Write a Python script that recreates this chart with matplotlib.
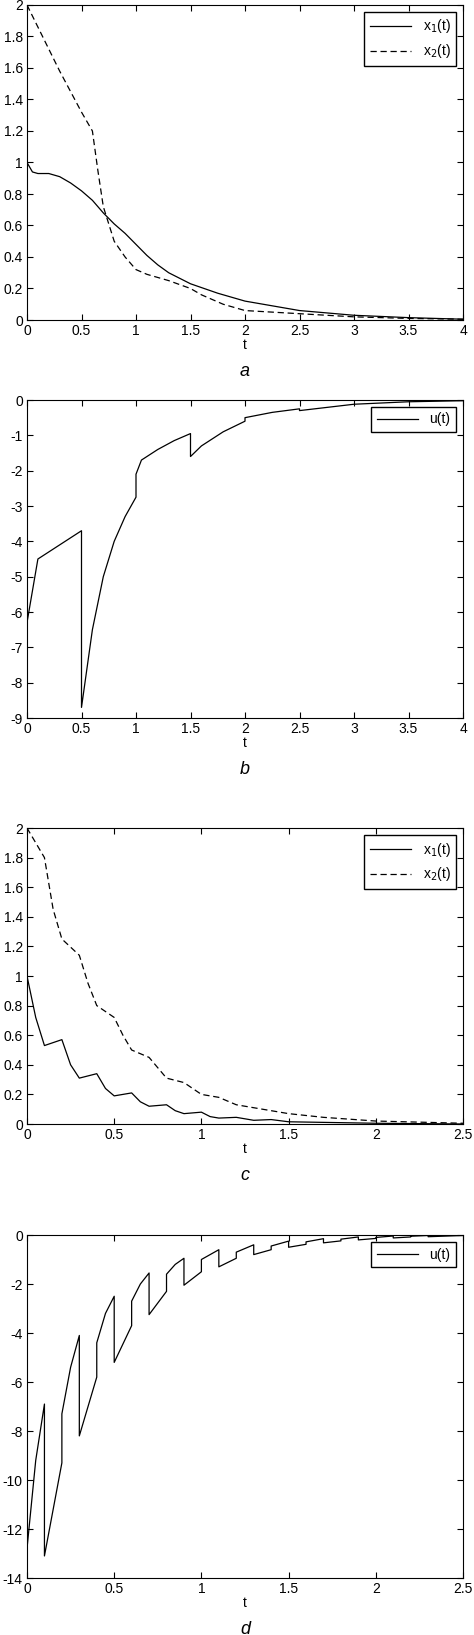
import matplotlib
matplotlib.use("Agg")
import matplotlib.pyplot as plt

plt.rcParams['font.family'] = ['Liberation Sans', 'DejaVu Sans']
plt.rcParams['font.size'] = 10
plt.rcParams['axes.unicode_minus'] = False

ta = [0, 0.05, 0.1, 0.2, 0.3, 0.4, 0.5, 0.6, 0.7, 0.8, 0.9, 1.0, 1.1, 1.2, 1.3, 1.5, 1.75, 2.0, 2.5, 3.0, 3.5, 4.0]
xa1 = [1.0, 0.94, 0.93, 0.93, 0.91, 0.87, 0.82, 0.76, 0.68, 0.61, 0.55, 0.48, 0.41, 0.35, 0.30, 0.23, 0.17, 0.12, 0.06, 0.03, 0.015, 0.005]
ta2 = [0, 0.1, 0.3, 0.5, 0.6, 0.65, 0.7, 0.8, 0.9, 1.0, 1.1, 1.3, 1.5, 1.6, 1.8, 2.0, 2.5, 3.0, 3.5, 4.0]
xa2 = [2.0, 1.86, 1.58, 1.32, 1.2, 0.95, 0.72, 0.5, 0.4, 0.32, 0.29, 0.25, 0.2, 0.16, 0.1, 0.06, 0.04, 0.02, 0.01, 0.005]

tb = [0, 0.1, 0.2, 0.35, 0.5, 0.5, 0.6, 0.7, 0.8, 0.9, 1.0, 1.0, 1.05, 1.2, 1.35, 1.5, 1.5, 1.6, 1.8, 2.0, 2.0, 2.25, 2.5, 2.5, 3.0, 3.5, 4.0]
ub = [-6.3, -4.5, -4.3, -4.0, -3.7, -8.7, -6.5, -5.0, -4.0, -3.3, -2.75, -2.1, -1.7, -1.4, -1.15, -0.95, -1.6, -1.3, -0.9, -0.6, -0.5, -0.35, -0.25, -0.3, -0.12, -0.05, -0.02]

tc1 = [0, 0.05, 0.1, 0.2, 0.25, 0.3, 0.4, 0.45, 0.5, 0.6, 0.65, 0.7, 0.8, 0.85, 0.9, 1.0, 1.05, 1.1, 1.2, 1.3, 1.4, 1.5, 1.75, 2.0, 2.5]
xc1 = [1.0, 0.72, 0.53, 0.57, 0.4, 0.31, 0.34, 0.24, 0.19, 0.21, 0.15, 0.12, 0.13, 0.09, 0.07, 0.08, 0.05, 0.04, 0.045, 0.025, 0.03, 0.015, 0.01, 0.005, 0.0]
tc2 = [0, 0.1, 0.15, 0.2, 0.3, 0.35, 0.4, 0.5, 0.55, 0.6, 0.7, 0.75, 0.8, 0.9, 1.0, 1.1, 1.2, 1.3, 1.5, 1.7, 2.0, 2.5]
xc2 = [2.0, 1.8, 1.45, 1.25, 1.14, 0.95, 0.8, 0.72, 0.6, 0.5, 0.45, 0.38, 0.31, 0.28, 0.2, 0.18, 0.13, 0.11, 0.07, 0.045, 0.02, 0.005]

td = [0, 0.05, 0.1, 0.1, 0.2, 0.2, 0.25, 0.3, 0.3, 0.4, 0.4, 0.45, 0.5, 0.5, 0.6, 0.6, 0.65, 0.7, 0.7, 0.8, 0.8, 0.85, 0.9, 0.9,
      1.0, 1.0, 1.1, 1.1, 1.2, 1.2, 1.3, 1.3, 1.4, 1.4, 1.5, 1.5, 1.6, 1.6, 1.7, 1.7, 1.8, 1.8, 1.9, 1.9, 2.0, 2.0, 2.1, 2.1, 2.2, 2.2, 2.3, 2.3, 2.5]
ud = [-12.8, -9.2, -6.9, -13.1, -9.3, -7.3, -5.4, -4.1, -8.2, -5.8, -4.4, -3.2, -2.5, -5.2, -3.7, -2.7, -2.0, -1.55, -3.25, -2.3, -1.6, -1.2, -0.95, -2.05,
      -1.5, -1.0, -0.6, -1.3, -0.95, -0.7, -0.4, -0.8, -0.6, -0.45, -0.25, -0.5, -0.38, -0.28, -0.15, -0.32, -0.24, -0.17, -0.08, -0.2, -0.14, -0.1, -0.04, -0.12, -0.08, -0.05, -0.02, -0.07, -0.02]

W, H = 474, 1635
fig = plt.figure(figsize=(W/100, H/100), dpi=100)

def add_ax(top, bottom):
    return fig.add_axes([27/W, 1 - bottom/H, (463-27)/W, (bottom-top)/H])

def style(ax, xmax, xt, label):
    ax.set_xlim(0, xmax)
    ax.set_xticks(xt)
    ax.set_xticklabels([('%g' % v) for v in xt])
    ax.tick_params(direction='in', top=True, right=True, length=4, labelsize=10, pad=3)
    ax.set_xlabel('t', fontsize=10, labelpad=0)
    ax.annotate(label, xy=(0.5, 0), xycoords='axes fraction', xytext=(0, -31),
                textcoords='offset points', ha='center', va='top', fontsize=13, style='italic')

lw = 0.9
dash = (0, (5, 3))
lkw = dict(loc='upper right', fancybox=False, edgecolor='k', fontsize=10, handlelength=3, framealpha=1)

ax = add_ax(5, 320)
ax.plot(ta, xa1, 'k-', lw=lw, label='x$_1$(t)')
ax.plot(ta2, xa2, 'k', ls=dash, lw=lw, label='x$_2$(t)')
ax.set_ylim(0, 2); ax.set_yticks([i/5 for i in range(11)])
ax.set_yticklabels(['%g' % (i/5) for i in range(11)])
style(ax, 4, [0, 0.5, 1, 1.5, 2, 2.5, 3, 3.5, 4], 'a')
ax.legend(**lkw)

ax = add_ax(400, 718)
ax.plot(tb, ub, 'k-', lw=lw, label='u(t)')
ax.set_ylim(-9, 0); ax.set_yticks(range(-9, 1))
style(ax, 4, [0, 0.5, 1, 1.5, 2, 2.5, 3, 3.5, 4], 'b')
ax.legend(**lkw)

ax = add_ax(828, 1124)
ax.plot(tc1, xc1, 'k-', lw=lw, label='x$_1$(t)')
ax.plot(tc2, xc2, 'k', ls=dash, lw=lw, label='x$_2$(t)')
ax.set_ylim(0, 2); ax.set_yticks([i/5 for i in range(11)])
ax.set_yticklabels(['%g' % (i/5) for i in range(11)])
style(ax, 2.5, [0, 0.5, 1, 1.5, 2, 2.5], 'c')
ax.legend(**lkw)

ax = add_ax(1235, 1578)
ax.plot(td, ud, 'k-', lw=lw, label='u(t)')
ax.set_ylim(-14, 0); ax.set_yticks(range(-14, 1, 2))
style(ax, 2.5, [0, 0.5, 1, 1.5, 2, 2.5], 'd')
ax.legend(**lkw)

fig.savefig('out.png', dpi=100)
